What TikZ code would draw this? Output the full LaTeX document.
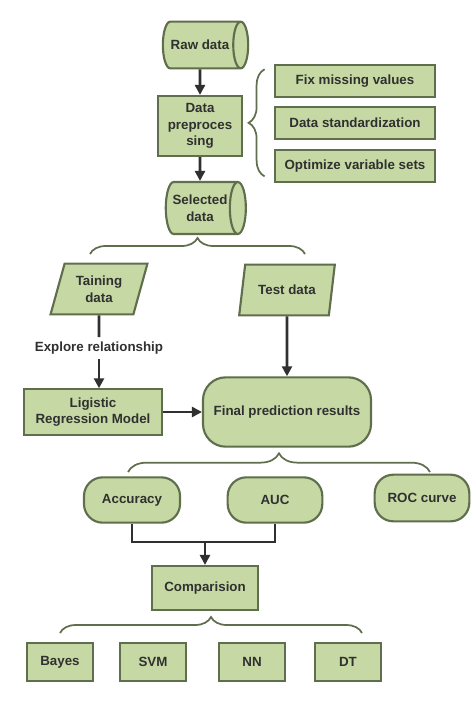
\documentclass[tikz,border=0pt]{standalone}
\usepackage{fontspec}
\setmainfont{Liberation Sans}
\usetikzlibrary{shapes.geometric,arrows.meta,decorations.pathreplacing}
\definecolor{boxfill}{HTML}{C6D9A4}
\definecolor{boxline}{HTML}{5F6E4C}
\definecolor{ink}{HTML}{303030}
\begin{document}
\begin{tikzpicture}[x=0.75pt,y=-0.75pt,
  every node/.style={font=\bfseries\fontsize{10}{12.5}\selectfont,text=ink,align=center},
  box/.style={fill=boxfill,draw=boxline,line width=1.6pt,shape=rectangle,inner sep=1pt},
  drum/.style={box,shape=cylinder,shape aspect=0.65},
  io/.style={box,shape=trapezium,trapezium left angle=71,trapezium right angle=109,trapezium stretches=true},
  pill/.style={box,rounded corners=14pt},
  flow/.style={-{Triangle[length=7.5pt,width=7.5pt]},draw=ink,line width=2pt},
  group/.style={draw=boxline,line width=1.3pt,decorate,decoration={brace,amplitude=12pt}}]
\useasboundingbox (0,0) rectangle (474,706);
\node[drum,shape aspect=1.2,minimum height=64pt,minimum width=35pt](RD) at (200,45){Raw data};
\node[box,minimum width=63pt,minimum height=45pt](DP) at (200,126){Data\\preproces\\sing};
\node[drum,shape aspect=0.55,minimum height=55pt,minimum width=39pt](SD) at (200,208){Selected\\data};
\node[box,minimum width=120pt,minimum height=24pt](FM) at (355,81){Fix missing values};
\node[box,minimum width=120pt,minimum height=24pt](DS) at (355,123){Data standardization};
\node[box,minimum width=120pt,minimum height=24pt](OV) at (355,166){Optimize variable sets};
\draw[flow] (RD) -- (DP);
\draw[flow] (DP) -- (SD);
\draw[group] ([xshift=-7pt,yshift=5pt]OV.south west) -- ([xshift=-7pt,yshift=-4pt]FM.north west);
% split into training and test
\draw[group] (90,254) -- (305,254);
\node[io,minimum width=73pt,minimum height=38pt](TR) at (99,289){Taining\\data};
\node[io,minimum width=72pt,minimum height=38pt](TS) at (287,290){Test data};
\node(EX) at (99,348){Explore relationship};
\node[box,minimum width=104pt,minimum height=34pt](LR) at (93,412){Ligistic\\Regression Model};
\node[pill,rounded corners=17pt,minimum width=126pt,minimum height=52pt](FP) at (287,412){Final prediction results};
\draw[draw=ink,line width=2pt] (TR) -- (EX);
\draw[flow] (EX) -- (EX |- LR.north);
\draw[flow] (TS) -- (FP);
\draw[flow] (LR) -- (FP);
% evaluation
\draw[group,decoration={amplitude=14pt}] (128,472) -- (430,472);
\node[pill,minimum width=72pt,minimum height=34pt](AC) at (132,500){Accuracy};
\node[pill,minimum width=71pt,minimum height=34pt](AU) at (275,500){AUC};
\node[pill,minimum width=71pt,minimum height=35pt](RC) at (422,498){ROC curve};
\node[box,minimum width=80pt,minimum height=33pt](CM) at (205,588){Comparision};
\coordinate (J) at (205,542);
\draw[draw=ink,line width=2pt] (AC) |- (J) -| (AU);
\draw[flow] (J) -- (CM);
\draw[group] (60,633) -- (362,633);
\node[box,minimum width=49pt,minimum height=29pt](BY) at (60,662){Bayes};
\node[box,minimum width=49pt,minimum height=29pt](SV) at (153,662){SVM};
\node[box,minimum width=49pt,minimum height=29pt](NN) at (252,662){NN};
\node[box,minimum width=49pt,minimum height=29pt](DT) at (348,662){DT};
\end{tikzpicture}
\end{document}
